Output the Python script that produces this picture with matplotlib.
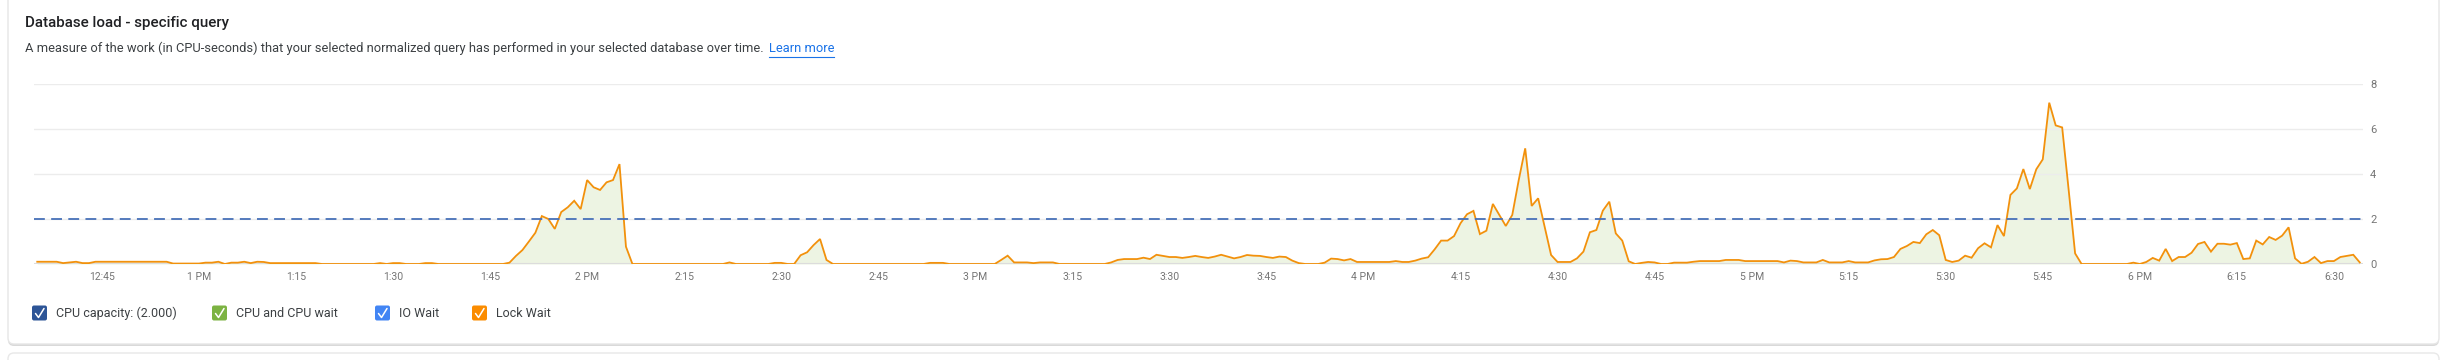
import numpy as np
import matplotlib.pyplot as plt
from matplotlib.patches import FancyBboxPatch

plt.rcParams['font.family'] = ['Roboto', 'DejaVu Sans']

# one sample per minute, first sample at 12:35 (minutes after 12:00)
start_minute = 35
lock_wait = [
    # 12:35
    0.1, 0.1, 0.1, 0.1, 0.04, 0.07, 0.1, 0.04, 0.04, 0.1,
    # 12:45
    0.1, 0.1, 0.1, 0.1, 0.1, 0.1, 0.1, 0.1, 0.1, 0.1, 0.1,
    0.02, 0.02, 0.02, 0.02, 0.02,
    # 1:01
    0.06, 0.06, 0.1, 0.0, 0.06, 0.06, 0.1, 0.04, 0.1, 0.09, 0.04,
    0.04, 0.04, 0.04, 0.04, 0.04, 0.04, 0.04,
    0, 0, 0, 0, 0, 0, 0, 0, 0,
    # 1:28
    0.04, 0, 0.04, 0.04, 0, 0, 0, 0.04, 0.04,
    0, 0, 0, 0, 0, 0, 0, 0, 0, 0, 0,
    # 1:48
    0.06, 0.36, 0.62, 1.0, 1.39, 2.13, 2.0, 1.56, 2.31, 2.52,
    2.81, 2.44, 3.73, 3.41, 3.29, 3.63, 3.73, 4.44, 0.77, 0.0,
    # 2:08
    0, 0, 0, 0, 0, 0, 0, 0, 0, 0, 0, 0, 0, 0,
    0.07,
    0, 0, 0, 0, 0, 0,
    0.05, 0.05, 0, 0,
    # 2:33
    0.39, 0.52, 0.84, 1.11, 0.18, 0,
    0, 0, 0, 0, 0, 0, 0, 0, 0, 0, 0, 0, 0, 0,
    0.05, 0.05, 0.05,
    0, 0, 0, 0, 0, 0, 0, 0,
    # 3:04
    0.18, 0.37, 0.07, 0.07, 0.07, 0.04, 0.07, 0.07, 0.07,
    0, 0, 0, 0, 0, 0, 0, 0,
    # 3:21
    0.07, 0.18, 0.22, 0.22, 0.22, 0.28, 0.22, 0.41, 0.36, 0.31,
    0.31, 0.27, 0.31, 0.36, 0.31, 0.27, 0.33, 0.41, 0.33, 0.25,
    0.31, 0.4, 0.37, 0.36, 0.31, 0.27, 0.33, 0.31, 0.15, 0.04,
    0, 0, 0,
    # 3:54
    0.06, 0.24, 0.22, 0.16, 0.22, 0.09, 0.09, 0.09, 0.09, 0.09,
    0.09, 0.13, 0.09, 0.09, 0.15, 0.24, 0.3,
    # 4:11
    0.65, 1.04, 1.04, 1.24, 1.81, 2.21, 2.36, 1.33, 1.48, 2.67,
    2.18, 1.69, 2.18, 3.73, 5.14, 2.58, 2.92, 1.66, 0.4, 0.09,
    0.09, 0.09, 0.25, 0.55, 1.41, 1.51, 2.37, 2.77, 1.36, 1.04,
    0.12, 0, 0.05, 0.09, 0.07, 0, 0,
    # 4:48
    0.06, 0.06, 0.06, 0.1, 0.13, 0.13, 0.13, 0.13, 0.18, 0.18,
    0.18, 0.13, 0.13, 0.13, 0.13, 0.13, 0.13, 0.07, 0.15, 0.13,
    0.07, 0.07, 0.07, 0.18, 0.07, 0.07, 0.07, 0.13, 0.07, 0.07,
    0.07, 0.16, 0.21, 0.22, 0.31, 0.67, 0.8, 0.98, 0.93, 1.32,
    1.51, 1.28, 0.18,
    # 5:31
    0.09, 0.15, 0.37, 0.28, 0.7, 0.92, 0.74, 1.73, 1.24, 3.07,
    3.36, 4.22, 3.33, 4.21, 4.65, 7.17, 6.16, 6.07, 3.3, 0.47,
    0, 0, 0, 0, 0, 0, 0, 0, 0.06, 0,
    # 6:01
    0.09, 0.27, 0.15, 0.67, 0.13, 0.31, 0.31, 0.5, 0.89, 0.98,
    0.55, 0.9, 0.9, 0.86, 0.93, 0.22, 0.25, 1.04, 0.87, 1.2,
    1.07, 1.26, 1.63, 0.25, 0.01, 0.1, 0.31, 0.04, 0.13, 0.13,
    0.31, 0.36, 0.41, 0.07,
]
minutes = start_minute + np.arange(len(lock_wait))

cpu_capacity = 2.0
tick_minutes = [45, 60, 75, 90, 105, 120, 135, 150, 165, 180, 195, 210,
                225, 240, 255, 270, 285, 300, 315, 330, 345, 360, 375, 390]
tick_labels = ['12:45', '1 PM', '1:15', '1:30', '1:45', '2 PM', '2:15', '2:30',
               '2:45', '3 PM', '3:15', '3:30', '3:45', '4 PM', '4:15', '4:30',
               '4:45', '5 PM', '5:15', '5:30', '5:45', '6 PM', '6:15', '6:30']
y_ticks = [0, 2, 4, 6, 8]

legend_labels = ['CPU capacity: (2.000)', 'CPU and CPU wait', 'IO Wait', 'Lock Wait']
legend_colors = ['#2d5597', '#7cb342', '#4285f4', '#fb8c00']
legend_x = [32, 212, 375, 472]

W, H = 2456, 360
fig = plt.figure(figsize=(W / 100, H / 100), dpi=100)
fig.patch.set_facecolor('white')

# background layer in pixel coordinates (card, texts, legend)
bg = fig.add_axes([0, 0, 1, 1], zorder=0)
bg.set_xlim(0, W)
bg.set_ylim(H, 0)
bg.axis('off')

bg.add_patch(FancyBboxPatch((8, -30), 2431, 376, boxstyle='round,pad=0,rounding_size=6',
                            fc='#d9d9d9', ec='none'))
bg.add_patch(FancyBboxPatch((8, -30), 2431, 374, boxstyle='round,pad=0,rounding_size=6',
                            fc='white', ec='#e6e6e6', lw=1))
bg.add_patch(FancyBboxPatch((8, 353), 2431, 40, boxstyle='round,pad=0,rounding_size=6',
                            fc='white', ec='#e8e8e8', lw=1))

bg.text(25, 23.5, 'Database load - specific query', fontsize=10.9, fontweight='medium',
        color='#202124', va='center', ha='left')
sub = bg.text(25, 48.5, 'A measure of the work (in CPU-seconds) that your selected normalized '
              'query has performed in your selected database over time.',
              fontsize=9.3, color='#3c4043', va='center', ha='left')
renderer = fig.canvas.get_renderer()
bb = sub.get_window_extent(renderer)
link_x = bb.x1 + 5
link = bg.text(link_x, 48.5, 'Learn more', fontsize=9.3, color='#1a73e8', va='center', ha='left')
lb = link.get_window_extent(renderer)
bg.plot([lb.x0, lb.x1], [56.5, 56.5], color='#1a73e8', lw=0.8)

for lab, col, x0 in zip(legend_labels, legend_colors, legend_x):
    bg.add_patch(FancyBboxPatch((x0, 305.5), 15, 15, boxstyle='round,pad=0,rounding_size=2',
                                fc=col, ec='none'))
    bg.plot([x0 + 3.5, x0 + 6.5, x0 + 12], [313.5, 317.5, 308.5], color='white', lw=1.1,
            solid_capstyle='round', solid_joinstyle='round')
    bg.text(x0 + 24, 313.5, lab, fontsize=9, color='#3c4043', va='center', ha='left')

# chart
left, right = 34 / W, 2363 / W
bottom, top = (H - 264) / H, (H - 84) / H
ax = fig.add_axes([left, bottom, right - left, top - bottom], zorder=1)
ax.patch.set_alpha(0)

ax.fill_between(minutes, lock_wait, 0, color='#edf4e3', lw=0, zorder=1)
ax.plot(minutes, lock_wait, color='#f2910c', lw=1.3, zorder=3, solid_joinstyle='miter')
ax.axhline(cpu_capacity, color='#4771b8', lw=1.3, dashes=(6, 3.5), zorder=4)

ax.set_xlim(minutes[0] - 0.5, minutes[-1] + 0.5)
ax.set_ylim(0, 8)
ax.set_yticks(y_ticks)
ax.set_yticklabels([str(v) for v in y_ticks])
ax.yaxis.tick_right()
ax.set_xticks(tick_minutes)
ax.set_xticklabels(tick_labels)
ax.tick_params(axis='both', length=0, labelsize=7.5, labelcolor='#757575')
ax.tick_params(axis='y', pad=5, labelsize=8)
ax.tick_params(axis='x', pad=5.5)
for s in ax.spines.values():
    s.set_visible(False)
ax.grid(axis='y', color='#ececec', lw=1)
ax.axhline(0, color='#dcdcdc', lw=1.5, zorder=2)

fig.savefig('out.png', dpi=100)
